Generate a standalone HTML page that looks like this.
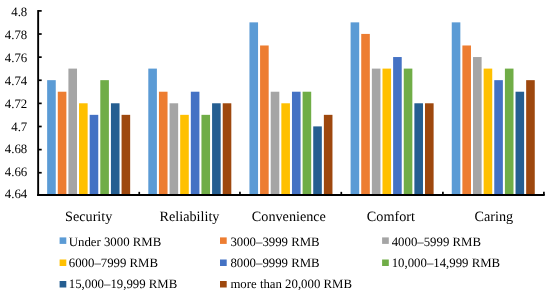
<!DOCTYPE html>
<html><head><meta charset="utf-8"><title>Chart</title>
<style>html,body{margin:0;padding:0;background:#fff}body{width:550px;height:296px;overflow:hidden}</style></head>
<body>
<svg width="550" height="296" viewBox="0 0 550 296" style="display:block;text-rendering:geometricPrecision" font-family="'Liberation Serif', serif">
<rect width="550" height="296" fill="#fff"/>
<rect x="47.15" y="80.16" width="8.6" height="114.84" fill="#5B9BD5"/>
<rect x="57.78" y="91.72" width="8.6" height="103.28" fill="#ED7D31"/>
<rect x="68.41" y="68.60" width="8.6" height="126.40" fill="#A5A5A5"/>
<rect x="79.04" y="103.28" width="8.6" height="91.72" fill="#FFC000"/>
<rect x="89.67" y="114.84" width="8.6" height="80.16" fill="#4472C4"/>
<rect x="100.30" y="80.16" width="8.6" height="114.84" fill="#70AD47"/>
<rect x="110.93" y="103.28" width="8.6" height="91.72" fill="#255E91"/>
<rect x="121.56" y="114.84" width="8.6" height="80.16" fill="#9E480E"/>
<rect x="148.30" y="68.60" width="8.6" height="126.40" fill="#5B9BD5"/>
<rect x="158.93" y="91.72" width="8.6" height="103.28" fill="#ED7D31"/>
<rect x="169.56" y="103.28" width="8.6" height="91.72" fill="#A5A5A5"/>
<rect x="180.19" y="114.84" width="8.6" height="80.16" fill="#FFC000"/>
<rect x="190.82" y="91.72" width="8.6" height="103.28" fill="#4472C4"/>
<rect x="201.45" y="114.84" width="8.6" height="80.16" fill="#70AD47"/>
<rect x="212.08" y="103.28" width="8.6" height="91.72" fill="#255E91"/>
<rect x="222.71" y="103.28" width="8.6" height="91.72" fill="#9E480E"/>
<rect x="249.45" y="22.36" width="8.6" height="172.64" fill="#5B9BD5"/>
<rect x="260.08" y="45.48" width="8.6" height="149.52" fill="#ED7D31"/>
<rect x="270.71" y="91.72" width="8.6" height="103.28" fill="#A5A5A5"/>
<rect x="281.34" y="103.28" width="8.6" height="91.72" fill="#FFC000"/>
<rect x="291.97" y="91.72" width="8.6" height="103.28" fill="#4472C4"/>
<rect x="302.60" y="91.72" width="8.6" height="103.28" fill="#70AD47"/>
<rect x="313.23" y="126.40" width="8.6" height="68.60" fill="#255E91"/>
<rect x="323.86" y="114.84" width="8.6" height="80.16" fill="#9E480E"/>
<rect x="350.60" y="22.36" width="8.6" height="172.64" fill="#5B9BD5"/>
<rect x="361.23" y="33.92" width="8.6" height="161.08" fill="#ED7D31"/>
<rect x="371.86" y="68.60" width="8.6" height="126.40" fill="#A5A5A5"/>
<rect x="382.49" y="68.60" width="8.6" height="126.40" fill="#FFC000"/>
<rect x="393.12" y="57.04" width="8.6" height="137.96" fill="#4472C4"/>
<rect x="403.75" y="68.60" width="8.6" height="126.40" fill="#70AD47"/>
<rect x="414.38" y="103.28" width="8.6" height="91.72" fill="#255E91"/>
<rect x="425.01" y="103.28" width="8.6" height="91.72" fill="#9E480E"/>
<rect x="451.75" y="22.36" width="8.6" height="172.64" fill="#5B9BD5"/>
<rect x="462.38" y="45.48" width="8.6" height="149.52" fill="#ED7D31"/>
<rect x="473.01" y="57.04" width="8.6" height="137.96" fill="#A5A5A5"/>
<rect x="483.64" y="68.60" width="8.6" height="126.40" fill="#FFC000"/>
<rect x="494.27" y="80.16" width="8.6" height="114.84" fill="#4472C4"/>
<rect x="504.90" y="68.60" width="8.6" height="126.40" fill="#70AD47"/>
<rect x="515.53" y="91.72" width="8.6" height="103.28" fill="#255E91"/>
<rect x="526.16" y="80.16" width="8.6" height="114.84" fill="#9E480E"/>
<g stroke="#000" stroke-width="1.9" fill="none">
<path d="M38.15 10.05V195.95"/>
<path d="M37.2 195.0H544.75"/>
</g>
<g stroke="#000" stroke-width="1.7">
<path d="M38.1 172.74h3.6"/>
<path d="M38.1 149.62h3.6"/>
<path d="M38.1 126.50h3.6"/>
<path d="M38.1 103.38h3.6"/>
<path d="M38.1 80.26h3.6"/>
<path d="M38.1 57.14h3.6"/>
<path d="M38.1 34.02h3.6"/>
<path d="M38.1 10.90h3.6"/>
<path d="M139.25 195.0v-3.15"/>
<path d="M239.95 195.0v-3.15"/>
<path d="M341.30 195.0v-3.15"/>
<path d="M442.90 195.0v-3.15"/>
<path d="M543.90 195.0v-3.15"/>
</g>
<g font-size="12.85" text-anchor="end" fill="#000">
<text x="27.3" y="198.40">4.64</text>
<text x="27.3" y="176.00">4.66</text>
<text x="27.3" y="153.30">4.68</text>
<text x="27.3" y="130.50">4.7</text>
<text x="27.3" y="107.90">4.72</text>
<text x="27.3" y="84.50">4.74</text>
<text x="27.3" y="61.80">4.76</text>
<text x="27.3" y="39.10">4.78</text>
<text x="27.3" y="15.60">4.8</text>
</g>
<g font-size="14.2" text-anchor="middle" fill="#000">
<text x="88.70" y="221">Security</text>
<text x="189.50" y="221">Reliability</text>
<text x="288.90" y="221">Convenience</text>
<text x="390.90" y="221">Comfort</text>
<text x="493.80" y="221">Caring</text>
</g>
<g font-size="12.8" fill="#000">
<rect x="59.60" y="237.40" width="6.7" height="6.5" fill="#5B9BD5"/>
<text x="68.80" y="245.50">Under 3000 RMB</text>
<rect x="220.00" y="237.40" width="6.7" height="6.5" fill="#ED7D31"/>
<text x="230.40" y="245.50">3000–3999 RMB</text>
<rect x="382.10" y="237.40" width="6.7" height="6.5" fill="#A5A5A5"/>
<text x="391.70" y="245.50">4000–5999 RMB</text>
<rect x="59.60" y="259.50" width="6.7" height="6.5" fill="#FFC000"/>
<text x="68.80" y="266.75">6000–7999 RMB</text>
<rect x="220.00" y="259.50" width="6.7" height="6.5" fill="#4472C4"/>
<text x="230.40" y="266.75">8000–9999 RMB</text>
<rect x="382.10" y="259.50" width="6.7" height="6.5" fill="#70AD47"/>
<text x="391.70" y="266.75">10,000–14,999 RMB</text>
<rect x="59.60" y="281.00" width="6.7" height="6.5" fill="#255E91"/>
<text x="68.80" y="288.05">15,000–19,999 RMB</text>
<rect x="220.00" y="281.00" width="6.7" height="6.5" fill="#9E480E"/>
<text x="230.40" y="288.05">more than 20,000 RMB</text>
</g>
</svg>
</body></html>
